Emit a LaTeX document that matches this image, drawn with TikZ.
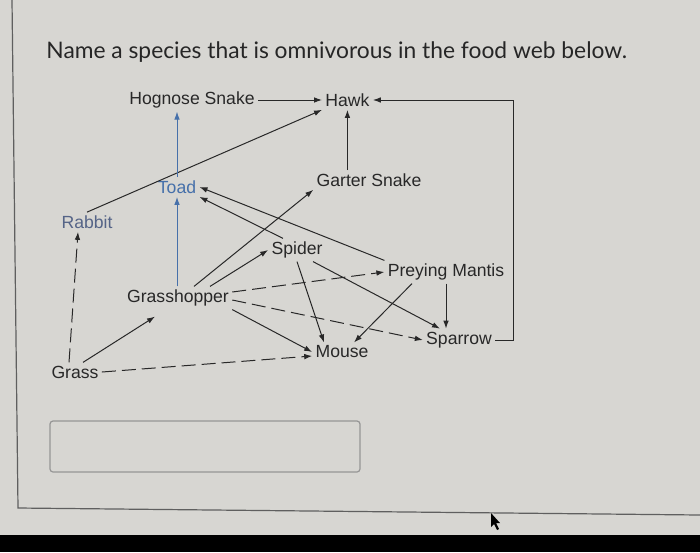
\documentclass[tikz,border=0pt]{standalone}
\usepackage{fontspec}
\setmainfont{Liberation Sans}
\newfontfamily\qfont{Lato}
\usetikzlibrary{arrows.meta,positioning}
\usepackage{xcolor}
\definecolor{screen}{RGB}{215,214,210}
\definecolor{ink}{RGB}{40,40,40}
\definecolor{toadblue}{RGB}{70,112,170}
\definecolor{rabbitblue}{RGB}{85,100,135}
\definecolor{framegray}{RGB}{95,95,95}
\definecolor{boxgray}{RGB}{150,150,150}

\begin{document}
\begin{tikzpicture}[%
    x=0.5pt, y=-0.5pt,
    >={Latex[length=4pt,width=2.8pt]},
    every node/.style={%
      font=\fontsize{8.8}{10}\selectfont,
      text=ink,
      inner sep=1.5pt
    },
    link/.style={->, draw=ink, line width=0.5pt},
    blink/.style={link, draw=toadblue},
    dlink/.style={link, dash pattern=on 7pt off 3pt}
  ]

  \useasboundingbox[fill=screen] (0,0) rectangle (700,552);

  % Screen frame and bottom bar
  \draw[framegray, line width=0.6pt] (12,0) -- (18,508) -- (700,515);
  \fill[black] (0,535) rectangle (700,552);
  \fill[black] (491,513) -- (491,527) -- (494,524) -- (497,530) -- (499,529)
    -- (496,523) -- (500,523) -- cycle;

  \node[anchor=west, font=\qfont\fontsize{11.4}{13}\selectfont, text=black!85]
    (title) at (43,52) {Name a species that is omnivorous in the food web below.};

  % Answer box
  \draw[boxgray, rounded corners=1.5pt, line width=0.6pt] (50,421) rectangle (360,472);

  % Species
  \node (hog) at (192,100) {Hognose Snake};
  \node[right=32pt of hog] (hawk) {Hawk};
  \node[text=toadblue] (toad) at (177,187) {Toad};
  \node[text=rabbitblue] (rabbit) at (87,222) {Rabbit};
  \node (garter) at (369,180) {Garter Snake};
  \node (spider) at (297,250) {Spider};
  \node (mantis) at (446,272) {Preying Mantis};
  \node (gh) at (178,298) {Grasshopper};
  \node (sparrow) at (459,340) {Sparrow};
  \node (mouse) at (342,352) {Mouse};
  \node (grass) at (75,372) {Grass};

  % Feeding links
  \draw[link] (hog.east) -- (hawk.west);
  \draw[link] (rabbit.north) -- (hawk.south west);
  \draw[blink] (toad.north) -- (toad.north |- hog.south);
  \draw[link] (hawk.south |- garter.north) -- (hawk.south);
  \draw[link] (sparrow.east) -- ++(18,0) |- (hawk.east);
  \draw[blink] (gh.north -| toad) -- (toad.south);
  \draw[link] ([xshift=8pt]gh.north) -- (garter.south west);
  \draw[link] (mantis.north west) -- (toad.east);
  \draw[link] ([xshift=-7pt]spider.north) -- (toad.south east);
  \draw[link] ([xshift=16pt]gh.north) -- (spider.west);
  \draw[dlink] ([yshift=3pt]gh.east) -- (mantis.west);
  \draw[dlink] ([yshift=-1pt]gh.east) -- (sparrow.west);
  \draw[link] (gh.south east) -- (mouse.west);
  \draw[link] (spider.south) -- ([xshift=-9pt]mouse.north);
  \draw[link] ([xshift=8pt]spider.south) -- ([xshift=-9.5pt]sparrow.north);
  \draw[link] ([xshift=-17pt]mantis.south) -- ([xshift=6pt]mouse.north);
  \draw[link] (mantis.south) -- (mantis.south |- sparrow.north);
  \draw[dlink] ([xshift=-3pt]grass.north) -- ([xshift=-4.5pt]rabbit.south);
  \draw[link] ([xshift=4pt]grass.north) -- ([xshift=-11.5pt,yshift=-3.5pt]gh.south);
  \draw[dlink] (grass.east) -- ([yshift=-2pt]mouse.west);

\end{tikzpicture}
\end{document}
